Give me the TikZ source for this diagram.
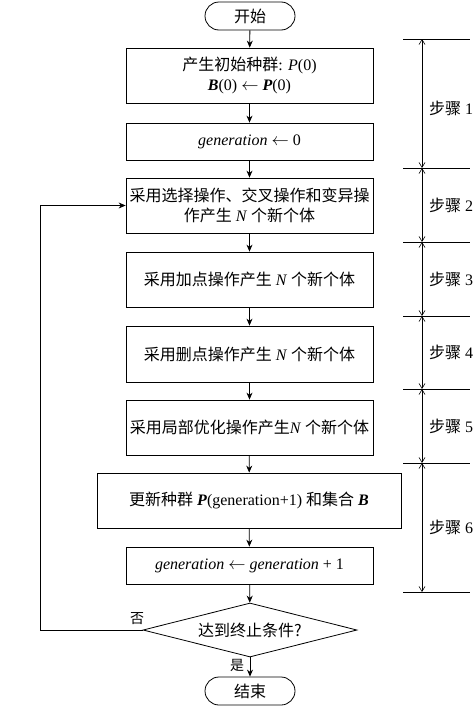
\documentclass[tikz,border=0pt]{standalone}
\usepackage{fontspec}
\setmainfont{Liberation Serif}
\newfontfamily\cjk{Noto Sans CJK SC}
\usetikzlibrary{shapes.geometric,shapes.misc,arrows.meta,positioning,calc}
\newcommand{\zh}[1]{{\cjk #1}}
\tikzset{
  stepbox/.style={rectangle, draw=black, line width=0.8pt, minimum width=247pt,
                  minimum height=55pt, inner sep=2pt, align=center,
                  font=\fontsize{16}{20}\selectfont},
  terminal/.style={rounded rectangle, draw=black, line width=0.8pt, minimum width=94pt,
                   minimum height=28pt, inner sep=2pt, font=\fontsize{16}{20}\selectfont},
  decision/.style={diamond, draw=black, line width=0.8pt, aspect=4, inner sep=0pt,
                   minimum width=214pt, minimum height=54pt,
                   font=\fontsize{16}{20}\selectfont},
  arrow/.style={-{Stealth[length=7pt,width=6pt]}, line width=0.8pt},
  span/.style={{Straight Barb[length=5pt,width=6pt]}-{Straight Barb[length=5pt,width=6pt]},
               line width=0.6pt},
  guide/.style={line width=0.8pt},
  steplabel/.style={anchor=west, inner sep=0pt, font=\fontsize{16}{20}\selectfont},
  branch/.style={inner sep=0pt, font=\fontsize{14}{16}\selectfont}
}

\begin{document}
\begin{tikzpicture}[x=1pt, y=-1pt]
\useasboundingbox (0,0) rectangle (474,707);

% --- Flow boxes ---
\node[terminal] (start) at (250,16) {\zh{开始}};
\node[stepbox] (init) at (249.5,75.5)
  {\zh{产生初始种群}: \textit{P}(0)\\ \textbf{\textit{B}}(0) $\leftarrow$ \textbf{\textit{P}}(0)};
\node[stepbox, minimum height=37pt] (gen0) at (249.5,141.5)
  {\textit{generation} $\leftarrow$ 0};
\node[stepbox] (cross) at (249.5,205.5)
  {\zh{采用选择操作、交叉操作和变异操}\\ \zh{作产生} \textit{N} \zh{个新个体}};
\node[stepbox] (add) at (249.5,279.5)
  {\zh{采用加点操作产生} \textit{N} \zh{个新个体}};
\node[stepbox, minimum height=56pt] (del) at (249.5,354)
  {\zh{采用删点操作产生} \textit{N} \zh{个新个体}};
\node[stepbox] (local) at (249.5,427.5)
  {\zh{采用局部优化操作产生}\textit{N} \zh{个新个体}};
\node[stepbox, minimum width=304pt] (update) at (249,500.5)
  {\zh{更新种群} \textbf{\textit{P}}(generation+1) \zh{和集合} \textbf{\textit{B}}};
\node[stepbox, minimum height=37pt] (inc) at (249.5,565.5)
  {\textit{generation} $\leftarrow$ \textit{generation} + 1};
\node[decision] (stop) at (250,630) {\zh{达到终止条件?}};
\node[terminal] (end) at (250,691) {\zh{结束}};

% --- Arrows ---
\draw[arrow] (start) -- (init);
\draw[arrow] (init) -- (gen0);
\draw[arrow] (gen0) -- (cross);
\draw[arrow] (cross) -- (add);
\draw[arrow] (add) -- (del);
\draw[arrow] (del) -- (local);
\draw[arrow] (local) -- (update);
\draw[arrow] (update) -- (inc);
\draw[arrow] (inc) -- (stop);
\draw[arrow] (stop) -- (end);

% --- Loop back ---
\coordinate (loop) at (40,630);
\draw[arrow] (stop.west) -- (loop) |- (cross.west);
\node[branch] (no) at (137,619) {\zh{否}};
\node[branch] (yes) at (237,665) {\zh{是}};

% --- Step bracket ---
\foreach \y [count=\i] in {39,168,242,316,389,463,592} {
  \coordinate (t\i) at (422,\y);
  \draw[guide] ($(t\i)+(-19,0)$) -- ($(t\i)+(48,0)$);
}
\foreach \a/\b in {1/2,2/3,3/4,4/5,5/6,6/7}
  \draw[span] (t\a) -- (t\b);
\foreach \n/\y in {1/108,2/205,3/279,4/352,5/426,6/527}
  \node[steplabel] (s\n) at (429,\y) {\zh{步骤} \n};

\end{tikzpicture}
\end{document}
